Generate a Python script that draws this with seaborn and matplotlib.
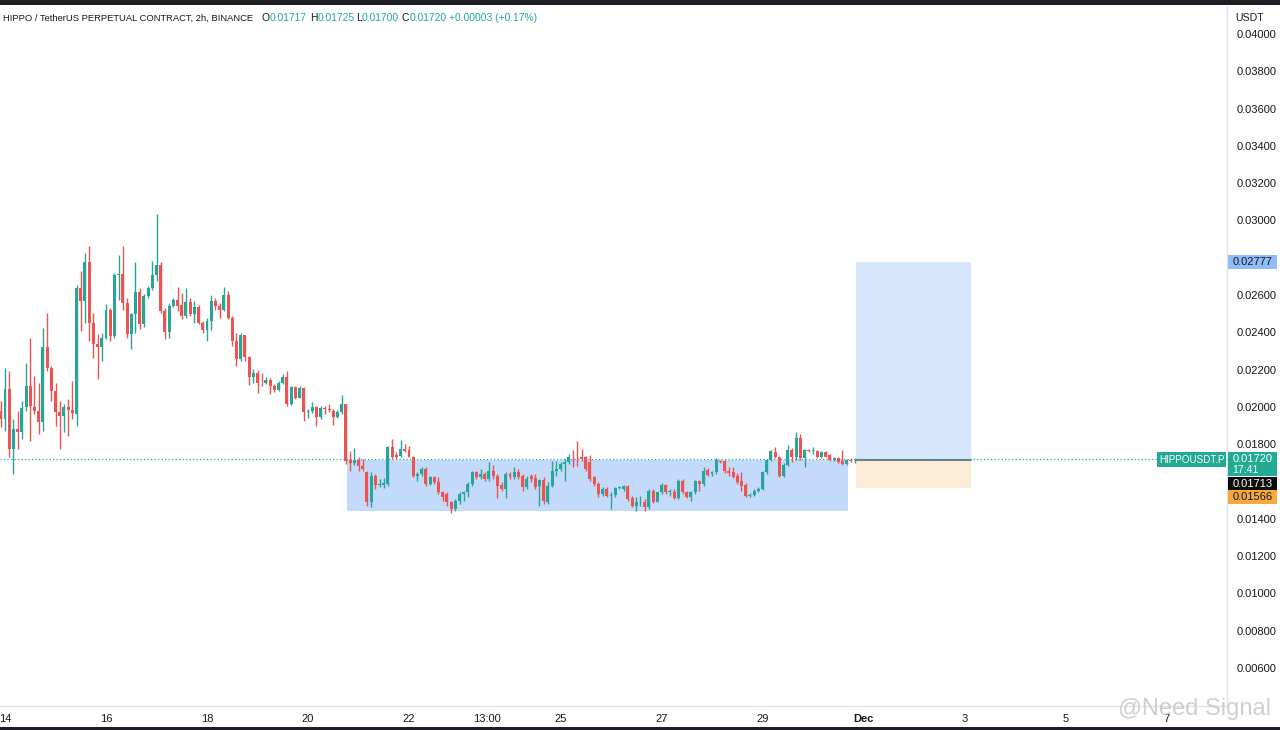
import numpy as np
import pandas as pd
import matplotlib
matplotlib.use("Agg")
import matplotlib.pyplot as plt
import matplotlib.dates as mdates
from matplotlib.patches import Rectangle
import seaborn as sns

# ---------------- data (2h candles, HIPPO/USDT perpetual) ----------------
opens = [
    0.01979, 0.01934, 0.02095, 0.01774, 0.01881, 0.01863, 0.01997, 0.02113, 0.02000, 0.01979,
    0.01917, 0.02321, 0.02211, 0.02086, 0.01970, 0.01952, 0.02002, 0.01983, 0.01961, 0.02635,
    0.02567, 0.02777, 0.02451, 0.02339, 0.02323, 0.02367, 0.02522, 0.02380, 0.02706, 0.02713,
    0.02558, 0.02392, 0.02496, 0.02615, 0.02446, 0.02594, 0.02635, 0.02710, 0.02763, 0.02513,
    0.02403, 0.02540, 0.02572,
    0.02544, 0.02487, 0.02562, 0.02496, 0.02535, 0.02451, 0.02410,
    0.02460, 0.02570, 0.02540, 0.02522, 0.02599, 0.02478, 0.02353, 0.02255, 0.02383, 0.02268,
    0.02161, 0.02184, 0.02130, 0.02127, 0.02145, 0.02113, 0.02091, 0.02127, 0.02162, 0.02015,
    0.02107, 0.02050, 0.02104, 0.01970, 0.01979, 0.01997, 0.01947, 0.01993, 0.01988, 0.01979,
    0.01947, 0.01970, 0.02015,
    0.01715, 0.01699, 0.01715, 0.01685, 0.01649, 0.01488, 0.01631,
    0.01581, 0.01581, 0.01587, 0.01783, 0.01742, 0.01738, 0.01774, 0.01770, 0.01734, 0.01631,
    0.01640, 0.01667, 0.01587, 0.01622, 0.01595, 0.01542, 0.01533, 0.01488, 0.01453, 0.01497,
    0.01533, 0.01546, 0.01587, 0.01649, 0.01622, 0.01640, 0.01613, 0.01658, 0.01631, 0.01581,
    0.01560, 0.01640, 0.01622, 0.01649,
    0.01631, 0.01569, 0.01631, 0.01617, 0.01578, 0.01608,
    0.01488, 0.01578, 0.01658, 0.01667, 0.01693, 0.01702, 0.01734, 0.01734, 0.01729, 0.01729,
    0.01702, 0.01622, 0.01587, 0.01533, 0.01560, 0.01524, 0.01528, 0.01563, 0.01560, 0.01578,
    0.01510, 0.01471, 0.01488, 0.01492, 0.01462, 0.01551, 0.01492, 0.01542, 0.01581, 0.01542,
    0.01542, 0.01510, 0.01604, 0.01542,
    0.01519, 0.01542, 0.01601, 0.01587, 0.01661, 0.01640,
    0.01649, 0.01711, 0.01711, 0.01658, 0.01649, 0.01631, 0.01604, 0.01583, 0.01522, 0.01530,
    0.01547, 0.01560, 0.01649, 0.01715, 0.01756, 0.01733, 0.01631, 0.01690, 0.01768, 0.01733,
    0.01832, 0.01725, 0.01768, 0.01765, 0.01765, 0.01729, 0.01756, 0.01742, 0.01715, 0.01725,
    0.01711, 0.01693, 0.01715, 0.01717,
]
highs = [
    0.02032, 0.02211, 0.02193, 0.01934, 0.01979, 0.02032, 0.02234, 0.02371, 0.02166, 0.02130,
    0.02424, 0.02505, 0.02220, 0.02130, 0.02032, 0.02015, 0.02041, 0.02139, 0.02656, 0.02731,
    0.02825, 0.02861, 0.02505, 0.02389, 0.02398, 0.02553, 0.02531, 0.02718, 0.02813, 0.02861,
    0.02585, 0.02505, 0.02775, 0.02638, 0.02606, 0.02647, 0.02781, 0.03034, 0.02775, 0.02531,
    0.02558, 0.02585, 0.02642,
    0.02611, 0.02635, 0.02585, 0.02570, 0.02549, 0.02460, 0.02478,
    0.02599, 0.02585, 0.02558, 0.02642, 0.02624, 0.02487, 0.02398, 0.02398, 0.02385, 0.02273,
    0.02202, 0.02196, 0.02184, 0.02161, 0.02153, 0.02121, 0.02139, 0.02175, 0.02193, 0.02113,
    0.02113, 0.02113, 0.02107, 0.01991, 0.02027, 0.02006, 0.02006, 0.02006, 0.02015, 0.01988,
    0.01982, 0.02064, 0.02018,
    0.01765, 0.01777, 0.01729, 0.01720, 0.01658, 0.01649, 0.01640,
    0.01613, 0.01617, 0.01791, 0.01827, 0.01756, 0.01824, 0.01800, 0.01788, 0.01738, 0.01649,
    0.01676, 0.01676, 0.01631, 0.01631, 0.01622, 0.01551, 0.01542, 0.01497, 0.01506, 0.01542,
    0.01551, 0.01595, 0.01658, 0.01654, 0.01667, 0.01649, 0.01702, 0.01688, 0.01640, 0.01595,
    0.01649, 0.01652, 0.01676, 0.01667,
    0.01640, 0.01631, 0.01640, 0.01640, 0.01613, 0.01622,
    0.01595, 0.01711, 0.01711, 0.01702, 0.01720, 0.01747, 0.01770, 0.01818, 0.01774, 0.01738,
    0.01742, 0.01631, 0.01595, 0.01569, 0.01569, 0.01542, 0.01569, 0.01578, 0.01581, 0.01581,
    0.01524, 0.01515, 0.01524, 0.01506, 0.01560, 0.01560, 0.01546, 0.01592, 0.01587, 0.01560,
    0.01560, 0.01613, 0.01613, 0.01551,
    0.01551, 0.01608, 0.01608, 0.01676, 0.01672, 0.01658,
    0.01725, 0.01715, 0.01715, 0.01676, 0.01676, 0.01644, 0.01649, 0.01590, 0.01537, 0.01560,
    0.01569, 0.01658, 0.01720, 0.01768, 0.01783, 0.01738, 0.01697, 0.01797, 0.01779, 0.01863,
    0.01854, 0.01774, 0.01774, 0.01786, 0.01768, 0.01761, 0.01761, 0.01747, 0.01733, 0.01733,
    0.01768, 0.01720, 0.01725, 0.01725,
]
lows = [
    0.01890, 0.01872, 0.01729, 0.01640, 0.01774, 0.01827, 0.01979, 0.01818, 0.01961, 0.01854,
    0.01872, 0.02193, 0.02032, 0.01899, 0.01774, 0.01863, 0.01845, 0.01934, 0.01899, 0.02407,
    0.02451, 0.02353, 0.02264, 0.02148, 0.02246, 0.02362, 0.02353, 0.02371, 0.02576, 0.02522,
    0.02371, 0.02309, 0.02398, 0.02416, 0.02428, 0.02585, 0.02629, 0.02674, 0.02505, 0.02362,
    0.02367, 0.02535, 0.02513,
    0.02469, 0.02478, 0.02487, 0.02451, 0.02442, 0.02398, 0.02353,
    0.02415, 0.02522, 0.02478, 0.02517, 0.02469, 0.02326, 0.02219, 0.02246, 0.02246, 0.02118,
    0.02130, 0.02077, 0.02113, 0.02121, 0.02068, 0.02082, 0.02086, 0.02121, 0.02006, 0.02011,
    0.02041, 0.02047, 0.01925, 0.01943, 0.01965, 0.01899, 0.01934, 0.01961, 0.01970, 0.01904,
    0.01943, 0.01961, 0.01694,
    0.01658, 0.01688, 0.01658, 0.01658, 0.01471, 0.01462, 0.01560,
    0.01569, 0.01563, 0.01578, 0.01720, 0.01720, 0.01729, 0.01756, 0.01729, 0.01622, 0.01604,
    0.01631, 0.01574, 0.01581, 0.01587, 0.01533, 0.01497, 0.01471, 0.01432, 0.01444, 0.01480,
    0.01497, 0.01515, 0.01578, 0.01613, 0.01613, 0.01604, 0.01604, 0.01613, 0.01510, 0.01551,
    0.01510, 0.01613, 0.01613, 0.01613,
    0.01551, 0.01560, 0.01595, 0.01560, 0.01471, 0.01480,
    0.01480, 0.01569, 0.01631, 0.01658, 0.01604, 0.01693, 0.01676, 0.01685, 0.01711, 0.01658,
    0.01604, 0.01578, 0.01515, 0.01524, 0.01515, 0.01453, 0.01515, 0.01560, 0.01551, 0.01497,
    0.01462, 0.01444, 0.01471, 0.01444, 0.01453, 0.01485, 0.01488, 0.01533, 0.01533, 0.01524,
    0.01506, 0.01506, 0.01533, 0.01510,
    0.01497, 0.01533, 0.01551, 0.01578, 0.01631, 0.01631,
    0.01640, 0.01697, 0.01644, 0.01631, 0.01619, 0.01587, 0.01551, 0.01519, 0.01519, 0.01524,
    0.01542, 0.01554, 0.01640, 0.01708, 0.01725, 0.01626, 0.01626, 0.01684, 0.01702, 0.01715,
    0.01715, 0.01679, 0.01756, 0.01747, 0.01725, 0.01725, 0.01729, 0.01711, 0.01708, 0.01697,
    0.01690, 0.01690, 0.01702, 0.01700,
]
closes = [
    0.01934, 0.02095, 0.01774, 0.01881, 0.01863, 0.01993, 0.02113, 0.02006, 0.01979, 0.01917,
    0.02321, 0.02211, 0.02086, 0.01970, 0.01952, 0.02002, 0.01983, 0.01965, 0.02635, 0.02567,
    0.02777, 0.02451, 0.02339, 0.02323, 0.02367, 0.02519, 0.02380, 0.02706, 0.02715, 0.02558,
    0.02392, 0.02496, 0.02615, 0.02446, 0.02594, 0.02635, 0.02710, 0.02763, 0.02513, 0.02403,
    0.02540, 0.02572, 0.02540,
    0.02487, 0.02563, 0.02496, 0.02535, 0.02451, 0.02410, 0.02460,
    0.02570, 0.02540, 0.02522, 0.02599, 0.02478, 0.02353, 0.02255, 0.02383, 0.02268, 0.02161,
    0.02184, 0.02130, 0.02127, 0.02145, 0.02113, 0.02091, 0.02127, 0.02162, 0.02015, 0.02107,
    0.02050, 0.02104, 0.01970, 0.01979, 0.01997, 0.01947, 0.01993, 0.01988, 0.01982, 0.01947,
    0.01970, 0.02015, 0.01712,
    0.01697, 0.01715, 0.01685, 0.01667, 0.01488, 0.01631, 0.01581,
    0.01587, 0.01592, 0.01783, 0.01729, 0.01729, 0.01774, 0.01765, 0.01734, 0.01631, 0.01640,
    0.01667, 0.01587, 0.01622, 0.01595, 0.01542, 0.01515, 0.01488, 0.01453, 0.01497, 0.01533,
    0.01546, 0.01587, 0.01649, 0.01622, 0.01640, 0.01613, 0.01658, 0.01631, 0.01578, 0.01560,
    0.01640, 0.01622, 0.01652, 0.01622,
    0.01569, 0.01613, 0.01613, 0.01569, 0.01608, 0.01497,
    0.01578, 0.01658, 0.01667, 0.01693, 0.01702, 0.01734, 0.01729, 0.01729, 0.01720, 0.01667,
    0.01613, 0.01587, 0.01533, 0.01560, 0.01524, 0.01528, 0.01563, 0.01569, 0.01578, 0.01506,
    0.01471, 0.01488, 0.01492, 0.01462, 0.01551, 0.01492, 0.01542, 0.01581, 0.01542, 0.01551,
    0.01510, 0.01604, 0.01542, 0.01515,
    0.01542, 0.01601, 0.01587, 0.01658, 0.01636, 0.01649,
    0.01715, 0.01702, 0.01654, 0.01644, 0.01626, 0.01595, 0.01578, 0.01524, 0.01530, 0.01551,
    0.01560, 0.01649, 0.01715, 0.01761, 0.01733, 0.01631, 0.01690, 0.01768, 0.01733, 0.01832,
    0.01725, 0.01768, 0.01761, 0.01768, 0.01729, 0.01756, 0.01733, 0.01715, 0.01725, 0.01702,
    0.01693, 0.01715, 0.01708, 0.01720,
]
first_candle = "2024-11-13 22:00"

# drawings
range_box_start, range_box_end = "2024-11-20 18:30", "2024-11-30 16:40"
range_box_low, range_box_high = 0.01442, 0.01715
position_start, position_end = "2024-11-30 20:25", "2024-12-03 03:05"
entry_price, target_price, stop_price = 0.01713, 0.02777, 0.01566
last_price = 0.01720

x_tick_times = ["2024-11-14 00:00", "2024-11-16 00:00", "2024-11-18 00:00", "2024-11-20 00:00",
                "2024-11-22 00:00", "2024-11-23 13:00", "2024-11-25 00:00", "2024-11-27 00:00",
                "2024-11-29 00:00", "2024-12-01 00:00", "2024-12-03 00:00", "2024-12-05 00:00",
                "2024-12-07 00:00"]
x_tick_labels = ["14", "16", "18", "20", "22", "13:00", "25", "27", "29", "Dec", "3", "5", "7"]
y_ticks = [0.006, 0.008, 0.010, 0.012, 0.014, 0.016, 0.018, 0.020, 0.022, 0.024,
           0.026, 0.028, 0.030, 0.032, 0.034, 0.036, 0.038, 0.040]
y_ticks_hidden = [0.016, 0.028]   # covered by the price labels in the reference

assert len(opens) == len(highs) == len(lows) == len(closes)

# ---------------- styling ----------------
sns.set_theme(style="white")
plt.rcParams['font.family'] = ['Liberation Sans', 'DejaVu Sans']

UP = "#26a69a"
DOWN = "#ef5350"
TXT = "#131722"

df = pd.DataFrame({
    "time": pd.date_range(first_candle, periods=len(closes), freq="2h"),
    "open": opens, "high": highs, "low": lows, "close": closes,
})
df["x"] = mdates.date2num(df["time"])
df["up"] = df["close"] >= df["open"]
df["color"] = np.where(df["up"], UP, DOWN)
df["body_lo"] = df[["open", "close"]].min(axis=1)
df["body_h"] = (df["close"] - df["open"]).abs().clip(lower=0.000035)

W, H = 1280, 730
fig = plt.figure(figsize=(W / 100, H / 100), dpi=100)
fig.patch.set_facecolor("white")
ax = fig.add_axes([0, 24 / H, 1227 / W, 700 / H])
ax.set_facecolor("white")

t14 = mdates.date2num(pd.Timestamp("2024-11-14"))
px_per_day = 50.5
ax.set_xlim(t14 - 5 / px_per_day, t14 + 1222 / px_per_day)
ax.set_ylim(0.00396, 0.0415)

# range box
rx0 = mdates.date2num(pd.Timestamp(range_box_start))
rx1 = mdates.date2num(pd.Timestamp(range_box_end))
ax.add_patch(Rectangle((rx0, range_box_low), rx1 - rx0, range_box_high - range_box_low,
                       facecolor="#c4dafa", edgecolor="none", zorder=1))

# long position tool
px0 = mdates.date2num(pd.Timestamp(position_start))
px1 = mdates.date2num(pd.Timestamp(position_end))
ax.add_patch(Rectangle((px0, entry_price), px1 - px0, target_price - entry_price,
                       facecolor="#d7e7fb", edgecolor="none", zorder=1))
ax.add_patch(Rectangle((px0, stop_price), px1 - px0, entry_price - stop_price,
                       facecolor="#fcebd5", edgecolor="none", zorder=1))
ax.plot([px0, px1], [entry_price, entry_price], color="#6a6d78", lw=1.3, zorder=2)

# last price dotted line
ax.axhline(last_price, color=UP, lw=0.9, ls=(0, (1, 1.8)), zorder=2)

# candles
ax.vlines(df["x"], df["low"], df["high"], colors=df["color"], lw=1.0, zorder=3)
ax.bar(df["x"], df["body_h"], bottom=df["body_lo"], width=0.7 / 12,
       color=df["color"], edgecolor="none", linewidth=0, zorder=4)

# axes styling
ax.grid(False)
for s in ["top", "left"]:
    ax.spines[s].set_visible(False)
ax.spines["right"].set_color("#e0e3eb")
ax.spines["bottom"].set_color("#e0e3eb")
ax.spines["right"].set_linewidth(1)
ax.spines["bottom"].set_linewidth(1)

ax.yaxis.tick_right()
ax.set_yticks(y_ticks)
ax.set_yticklabels(["" if any(abs(v - h) < 1e-9 for h in y_ticks_hidden) else f"{v:.5f}"
                    for v in y_ticks])
ax.tick_params(axis="y", length=0, pad=7, labelsize=8, labelcolor=TXT)
tick_x = [mdates.date2num(pd.Timestamp(t)) for t in x_tick_times]
ax.set_xticks(tick_x)
ax.set_xticklabels(x_tick_labels)
ax.tick_params(axis="x", length=0, pad=6, labelsize=8, labelcolor=TXT)
for lab in ax.get_xticklabels():
    if lab.get_text() == "Dec":
        lab.set_fontweight("bold")

# ---------------- helpers in pixel coordinates ----------------
def fx(x):
    return x / W

def fy(y):
    return 1 - y / H

def pix_rect(x0, y0, x1, y1, color):
    fig.add_artist(Rectangle((fx(x0), fy(y1)), (x1 - x0) / W, (y1 - y0) / H,
                             transform=fig.transFigure, facecolor=color,
                             edgecolor="none", zorder=10))

def price_to_py(p):
    return H - ax.transData.transform((ax.get_xlim()[0], p))[1]

# top & bottom dark bands
pix_rect(0, 0, W, 5, "#1d1f24")
pix_rect(0, 727, W, H, "#1d1f24")

# header
renderer = fig.canvas.get_renderer()
hy = fy(18)
title = fig.text(fx(3), hy, "HIPPO / TetherUS PERPETUAL CONTRACT, 2h, BINANCE",
                 color=TXT, fontsize=7.4, va="center", ha="left")
tw = title.get_window_extent(renderer=renderer).width
title.set_fontsize(7.4 * 252 / tw)

pieces = [("O", TXT, 262), ("0.01717", UP, None),
          ("H", TXT, 310), ("0.01725", UP, None),
          ("L", TXT, 356), ("0.01700", UP, None),
          ("C", TXT, 402), ("0.01720", UP, None),
          ("+0.00003 (+0.17%)", UP, 449)]
cur = 0
for txt, col, xstart in pieces:
    if xstart is not None:
        cur = xstart
    t = fig.text(fx(cur), hy, txt, color=col, fontsize=7.4, va="center", ha="left")
    bb = t.get_window_extent(renderer=renderer)
    cur = cur + bb.width

fig.text(fx(1250), fy(18), "USDT", color=TXT, fontsize=7.6, va="center", ha="center")

# price labels on the right
y_t = price_to_py(target_price)
pix_rect(1228, y_t - 7, 1277, y_t + 7, "#90bdf7")
fig.text(fx(1252.5), fy(y_t), f"{target_price:.5f}", color=TXT, fontsize=8,
         ha="center", va="center", zorder=11)

y_l = price_to_py(last_price)
pix_rect(1228, y_l - 7, 1277, y_l + 17, "#22ab94")
fig.text(fx(1252.5), fy(y_l), f"{last_price:.5f}", color="white", fontsize=8,
         ha="center", va="center", zorder=11)
fig.text(fx(1245), fy(y_l + 11), "17:41", color="white", fontsize=7.6,
         ha="center", va="center", zorder=11)
pix_rect(1157, y_l - 7, 1226, y_l + 8, "#22ab94")
fig.text(fx(1191.5), fy(y_l + 0.5), "HIPPOUSDT.P", color="white", fontsize=7.1,
         ha="center", va="center", zorder=11)

pix_rect(1228, y_l + 18, 1277, y_l + 31, "#0b0b0c")
fig.text(fx(1252.5), fy(y_l + 24.5), f"{entry_price:.5f}", color="white", fontsize=8,
         ha="center", va="center", zorder=11)
pix_rect(1228, y_l + 31, 1277, y_l + 45, "#f7a93b")
fig.text(fx(1252.5), fy(y_l + 38), f"{stop_price:.5f}", color=TXT, fontsize=8,
         ha="center", va="center", zorder=11)

# watermark
fig.text(fx(1195), fy(709), "@Need Signal", color="#c4c4c4", alpha=0.8, fontsize=17,
         ha="center", va="center", zorder=12)

fig.savefig("out.png", dpi=100, facecolor="white")
